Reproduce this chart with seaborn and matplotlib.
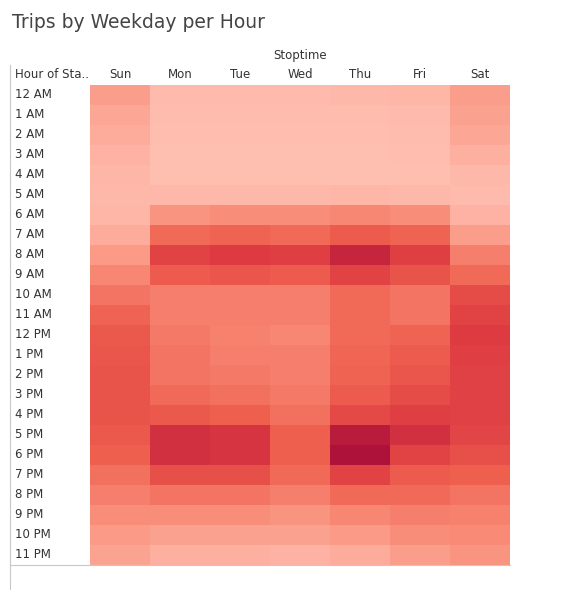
import matplotlib
matplotlib.use("Agg")
import matplotlib.pyplot as plt
import seaborn as sns
import pandas as pd
from matplotlib.colors import LinearSegmentedColormap
from matplotlib.lines import Line2D

days = ["Sun", "Mon", "Tue", "Wed", "Thu", "Fri", "Sat"]
hours = ["12 AM"] + [f"{h} AM" for h in range(1, 12)] + ["12 PM"] + [f"{h} PM" for h in range(1, 12)]
sun = [30,25,22,18,15,14,15,22,32,42,50,58,63,65,66,66,66,64,60,52,45,38,32,27]
mon = [12,10,9,8,8,14,35,55,75,62,45,45,48,50,50,55,63,85,85,68,50,38,28,20]
tue = [12,10,9,8,8,14,38,58,80,65,45,45,44,45,48,52,60,83,83,68,50,38,28,20]
wed = [12,10,9,8,8,14,38,55,78,62,45,45,42,45,45,48,52,60,60,55,45,35,28,18]
thu = [14,10,9,8,8,15,42,62,90,75,55,55,55,57,58,62,72,95,100,75,55,42,32,22]
fri = [15,12,10,9,8,14,38,58,78,66,50,50,58,62,65,70,78,85,75,62,55,45,38,30]
sat = [30,28,25,20,14,12,18,30,45,55,70,75,80,78,76,76,76,74,68,60,50,44,40,35]

df = pd.DataFrame({"Sun": sun, "Mon": mon, "Tue": tue, "Wed": wed, "Thu": thu, "Fri": fri, "Sat": sat}, index=hours)

cmap = LinearSegmentedColormap.from_list("tabred", ["#ffc8bc", "#fdb0a0", "#f88a76", "#ee5f4e", "#dd3a42", "#ae123a"])

W, H = 579, 590
fig = plt.figure(figsize=(W/100, H/100), dpi=100)
ax = fig.add_axes([90/W, (H-565)/H, 420/W, 480/H])
sns.heatmap(df, cmap=cmap, vmin=0, vmax=100, cbar=False, ax=ax)
ax.xaxis.tick_top()
ax.set_xticklabels(days, rotation=0, fontsize=8.5, color="#333333")
ax.set_yticklabels(hours, rotation=0, fontsize=8.5, color="#333333", ha="left")
ax.tick_params(axis="both", length=0)
ax.tick_params(axis="y", pad=54)
ax.tick_params(axis="x", pad=3)
ax.set_xlabel(""); ax.set_ylabel("")

fig.text(12/W, 1-22/H, "Trips by Weekday per Hour", fontsize=13.5, color="#444444", va="center")
fig.text(300/W, 1-55/H, "Stoptime", fontsize=8.5, color="#333333", ha="center", va="center")
fig.text(15/W, 1-75/H, "Hour of Sta..", fontsize=8.5, color="#333333", va="center")
fig.add_artist(Line2D([10/W, 10/W], [0, 1-65/H], color="#c8c8c8", lw=0.8))
fig.add_artist(Line2D([10/W, 510/W], [1-565/H, 1-565/H], color="#c8c8c8", lw=0.8))
fig.savefig("out.png", dpi=100)
